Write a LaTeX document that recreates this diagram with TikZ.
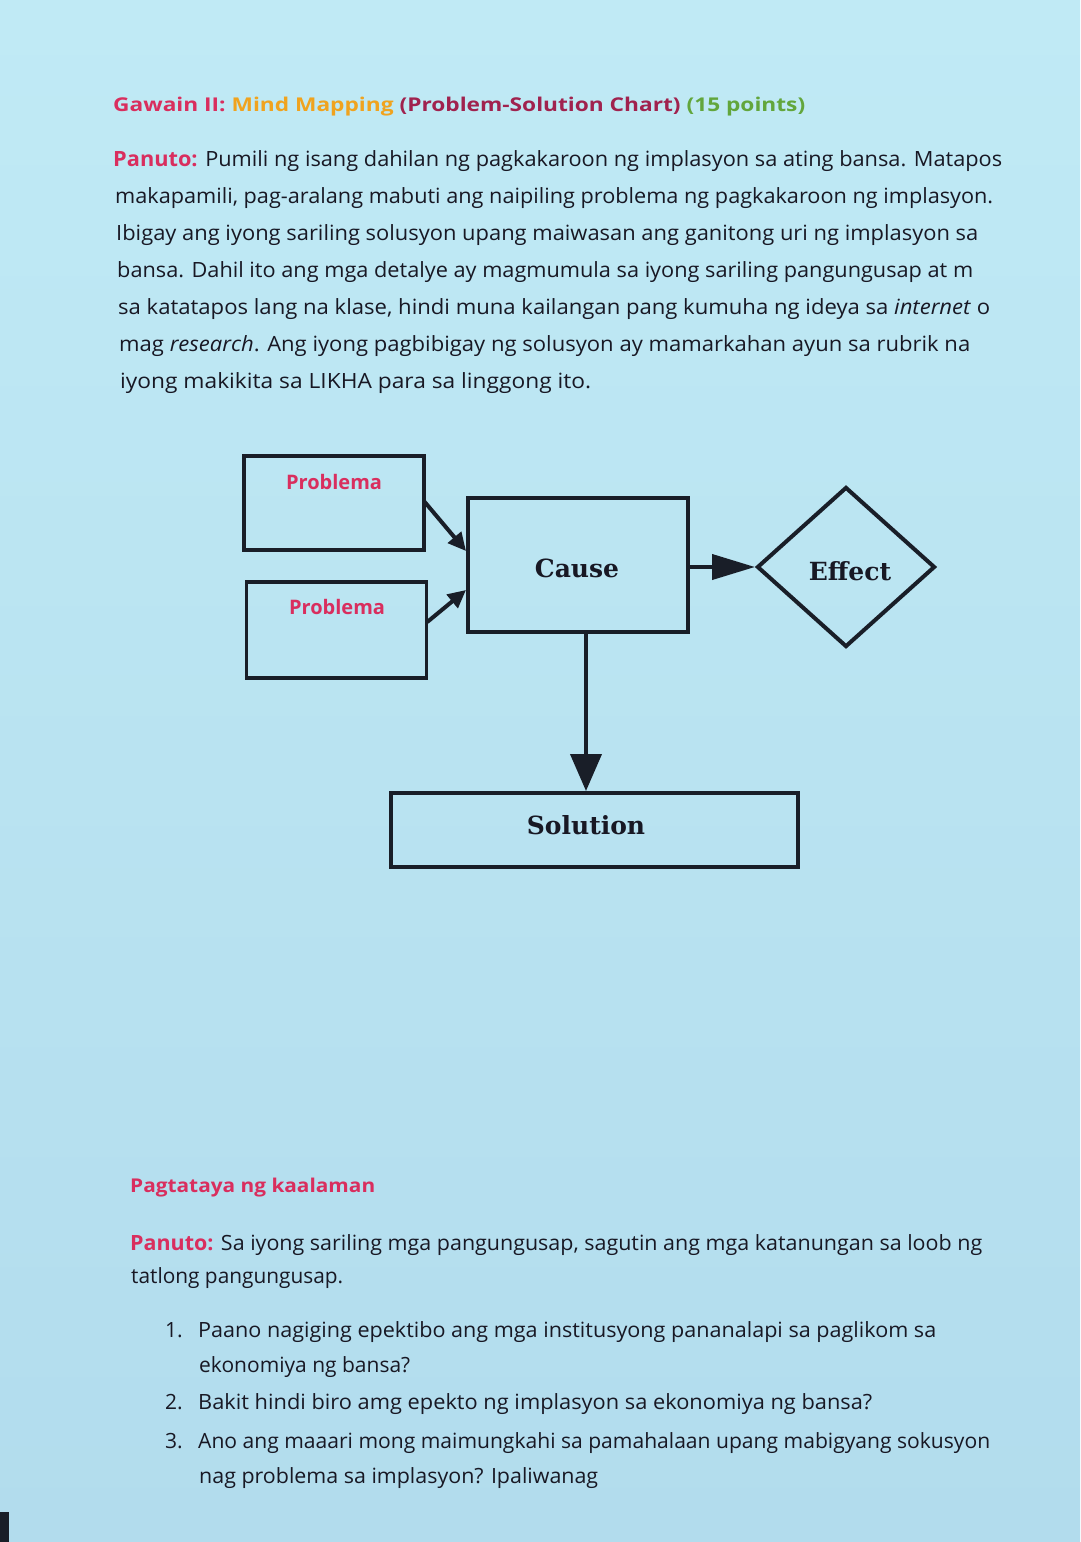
\documentclass[tikz,border=0pt]{standalone}
\usepackage{fontspec}
\usepackage{graphicx}
\setmainfont{Open Sans}
\newfontfamily\dserif{DejaVu Serif}
\usetikzlibrary{arrows.meta,shapes.geometric,calc}
\definecolor{pgtop}{RGB}{192,234,245}
\definecolor{pgmid}{RGB}{201,241,250}
\definecolor{pgbot}{RGB}{178,220,237}
\definecolor{ink}{RGB}{24,24,36}
\definecolor{lcol}{RGB}{25,30,40}
\definecolor{crim}{RGB}{217,46,94}
\definecolor{orng}{RGB}{240,163,30}
\definecolor{maroon}{RGB}{160,34,78}
\definecolor{grn}{RGB}{98,166,60}
\newcommand\fitline[2]{\resizebox{#1pt}{\height}{#2}}
\begin{document}
\begin{tikzpicture}[x=1pt,y=-1pt,
  tline/.style={anchor=base west, inner sep=0pt, text=ink, font=\fontsize{21}{25}\selectfont},
  hline/.style={tline, font=\bfseries\fontsize{19}{23}\selectfont},
  box/.style={draw=lcol, line width=4pt, rectangle, inner sep=0pt},
  pbox/.style={box, line width=3.5pt},
  lbl/.style={inner sep=0pt, text=ink, font=\dserif\bfseries\fontsize{25}{29}\selectfont},
  plbl/.style={inner sep=0pt, text=crim, font=\bfseries\fontsize{20}{24}\selectfont},
  arr/.style={draw=lcol, line width=4pt},
  bigtip/.style={-{Triangle[length=43pt,width=25pt]}},
  downtip/.style={-{Triangle[length=37pt,width=31pt]}},
  smalltip/.style={-{Triangle[length=18pt,width=17pt]}}
]
\useasboundingbox (0,0) rectangle (1080,1542);
\shade[top color=pgtop, middle color=pgmid, bottom color=pgbot] (0,0) rectangle (1080,1542);
\fill[lcol] (0,1512) rectangle (9,1542);

% title
\node[hline] (title) at (113,111) {\fitline{692}{\textcolor{crim}{Gawain II:} \textcolor{orng}{Mind Mapping} \textcolor{maroon}{(Problem-Solution Chart)} \textcolor{grn}{(15 points)}}};

% paragraph
\node[tline] (l1) at (113,166) {\fitline{889}{\textcolor{crim}{\bfseries Panuto:} Pumili ng isang dahilan ng pagkakaroon ng implasyon sa ating bansa. Matapos}};
\node[tline] (l2) at (115,203) {\fitline{878}{makapamili, pag-aralang mabuti ang naipiling problema ng pagkakaroon ng implasyon.}};
\node[tline] (l3) at (116,240) {\fitline{862}{Ibigay ang iyong sariling solusyon upang maiwasan ang ganitong uri ng implasyon sa}};
\node[tline] (l4) at (117,277) {\fitline{856}{bansa. Dahil ito ang mga detalye ay magmumula sa iyong sariling pangungusap at m}};
\node[tline] (l5) at (118,314) {\fitline{872}{sa katatapos lang na klase, hindi muna kailangan pang kumuha ng ideya sa \textit{internet} o}};
\node[tline] (l6) at (119,351) {\fitline{851}{mag \textit{research}. Ang iyong pagbibigay ng solusyon ay mamarkahan ayun sa rubrik na}};
\node[tline] (l7) at (120,388) {\fitline{471}{iyong makikita sa LIKHA para sa linggong ito.}};

% diagram
\node[pbox, minimum width=180pt, minimum height=94pt] (p1) at (334,503) {};
\node[pbox, minimum width=180pt, minimum height=96pt] (p2) at (336.5,630) {};
\node[box, minimum width=220pt, minimum height=134pt] (cause) at (578,565) {};
\node[box, minimum width=407pt, minimum height=74pt] (sol) at (594.5,830) {};
\node[draw=lcol, line width=4pt, diamond, inner sep=0pt, minimum width=178pt, minimum height=160pt] (effect) at (846,567) {};

\node[plbl] (p1t) at (334,482) {\fitline{96}{Problema}};
\node[plbl] (p2t) at (337,607) {\fitline{96}{Problema}};
\node[lbl] (causet) at (577,568) {Cause};
\node[lbl] (effectt) at (850,571) {Effect};
\node[lbl] (solt) at (586,825) {Solution};

\draw[arr, smalltip] ($(p1.east)+(-1,-1)$) -- ($(cause.west)+(0,-14)$);
\draw[arr, smalltip] ($(p2.east)+(-1,-8)$) -- ($(cause.west)+(0,25)$);
\draw[arr, bigtip] (cause.east |- effect.west) -- (effect.west);
\draw[arr, downtip] ($(cause.south)+(8,0)$) -- ($(sol.north)+(-8.5,0)$);

% evaluation section
\node[hline] (h2) at (130,1192) {\fitline{245}{\textcolor{crim}{Pagtataya ng kaalaman}}};
\node[tline] (m1) at (130,1250) {\fitline{852}{\textcolor{crim}{\bfseries Panuto:} Sa iyong sariling mga pangungusap, sagutin ang mga katanungan sa loob ng}};
\node[tline] (m2) at (131,1283) {\fitline{212}{tatlong pangungusap.}};

\node[tline] (n1) at (165,1337) {1.};
\node[tline] (q1a) at (198,1337) {\fitline{738}{Paano nagiging epektibo ang mga institusyong pananalapi sa paglikom sa}};
\node[tline] (q1b) at (199,1372) {\fitline{211}{ekonomiya ng bansa?}};
\node[tline] (n2) at (165,1409) {2.};
\node[tline] (q2) at (198,1409) {\fitline{674}{Bakit hindi biro amg epekto ng implasyon sa ekonomiya ng bansa?}};
\node[tline] (n3) at (165,1448) {3.};
\node[tline] (q3a) at (198,1448) {\fitline{792}{Ano ang maaari mong maimungkahi sa pamahalaan upang mabigyang sokusyon}};
\node[tline] (q3b) at (199,1483) {\fitline{399}{nag problema sa implasyon? Ipaliwanag}};
\end{tikzpicture}
\end{document}
